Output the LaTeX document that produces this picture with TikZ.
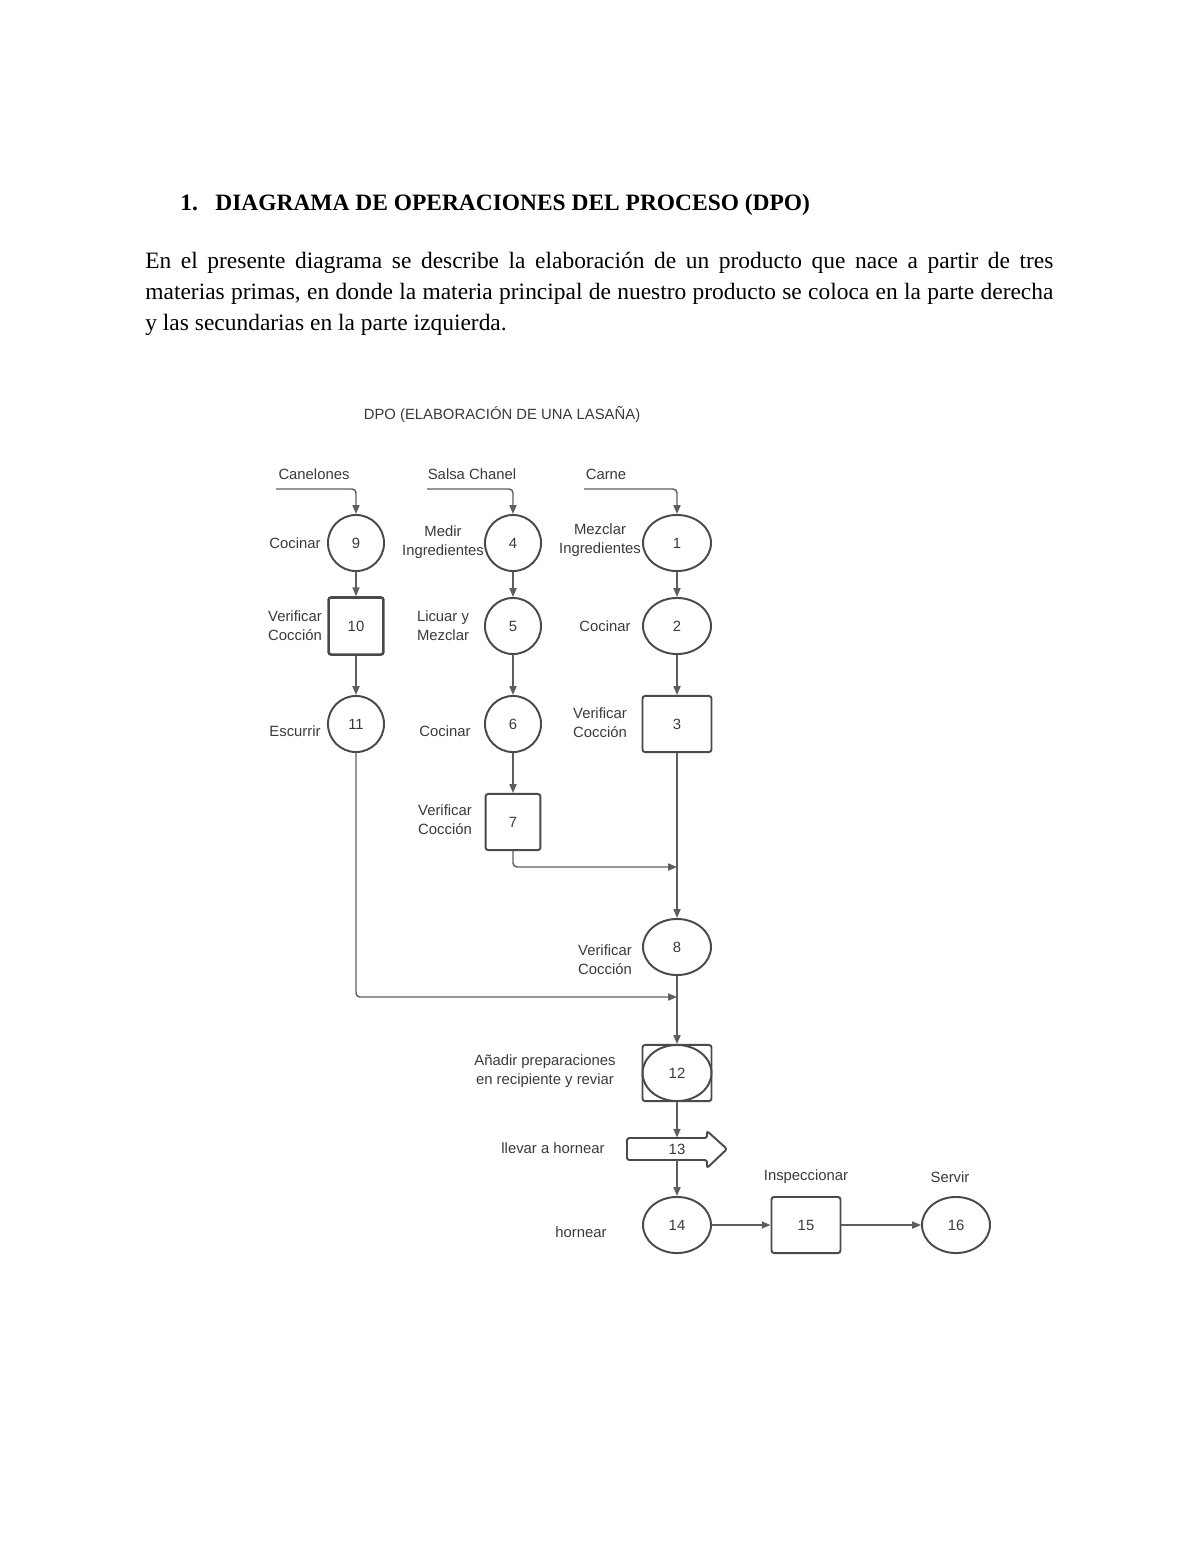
\documentclass[tikz,border=0pt]{standalone}
\usepackage{fontspec}
\setmainfont{Liberation Serif}
\setsansfont{Liberation Sans}
\usetikzlibrary{shapes.geometric,arrows.meta}
\definecolor{shapec}{HTML}{4A4A4A}
\definecolor{linec}{HTML}{5E5E5E}
\definecolor{txtc}{HTML}{3A3A3A}
\begin{document}
\begin{tikzpicture}[x=0.5118pt,y=-0.5118pt,
  dfont/.style={font=\sffamily\fontsize{7.6}{9.7}\selectfont, text=txtc},
  lbl/.style={dfont, align=center, inner sep=0},
  opc/.style={circle, draw=shapec, line width=1pt, minimum size=28.7pt, inner sep=0, dfont},
  ope/.style={ellipse, draw=shapec, line width=1pt, minimum width=34.8pt, minimum height=28.7pt, inner sep=0, dfont},
  insp/.style={rectangle, rounded corners=1.3pt, draw=shapec, line width=1pt, inner sep=0, dfont},
  flow/.style={draw=linec, line width=0.75pt, -{Triangle[length=4.5pt,width=3.6pt]}, rounded corners=2pt}
]
\useasboundingbox[fill=white] (0,0) rectangle (1200,1553);

% header text
\node[anchor=base west, inner sep=0, font=\bfseries\fontsize{12}{14}\selectfont] (num) at (180,210) {1.};
\node[anchor=base west, inner sep=0, font=\bfseries\fontsize{12}{14}\selectfont] (head) at (215,210) {DIAGRAMA DE OPERACIONES DEL PROCESO (DPO)};
\node[anchor=north west, inner sep=0, text width=464.7pt, align=justify, font=\fontsize{12}{15.8}\selectfont] (body) at (145,252)
 {En el presente diagrama se describe la elaboración de un producto que nace a partir de tres\linebreak materias primas, en donde la materia principal de nuestro producto se coloca en la parte derecha\linebreak y las secundarias en la parte izquierda.};

% title
\node[lbl] (title) at (502,415) {DPO (ELABORACIÓN DE UNA LASAÑA)};

% column 1
\node[lbl] (lcan) at (314,474) {Canelones};
\coordinate (c1) at (276,489);
\node[opc] (n9) at (356,543) {9};
\node[insp, line width=1.3pt, minimum width=28.1pt, minimum height=29.2pt] (n10) at (356,626) {10};
\node[opc] (n11) at (356,724) {11};
\node[lbl] (l9) at (295,543) {Cocinar};
\node[lbl] (l10) at (295,626) {Verificar\\Cocción};
\node[lbl] (l11) at (295,731) {Escurrir};

% column 2
\node[lbl] (lsal) at (472,474) {Salsa Chanel};
\coordinate (c2) at (427,489);
\node[opc] (n4) at (513,543) {4};
\node[opc] (n5) at (513,626) {5};
\node[opc] (n6) at (513,724) {6};
\node[insp, minimum width=28.1pt, minimum height=28.7pt] (n7) at (513,822) {7};
\node[lbl] (l4) at (443,542) {Medir\\Ingredientes};
\node[lbl] (l5) at (443,626) {Licuar y\\Mezclar};
\node[lbl] (l6) at (445,731) {Cocinar};
\node[lbl] (l7) at (445,820) {Verificar\\Cocción};

% column 3
\node[lbl] (lcar) at (606,474) {Carne};
\coordinate (c3) at (584,489);
\node[ope] (n1) at (677,543) {1};
\node[ope] (n2) at (677,626) {2};
\node[insp, minimum width=35.3pt, minimum height=28.7pt] (n3) at (677,724) {3};
\node[ope] (n8) at (677,947) {8};
\node[lbl] (l1) at (600,540) {Mezclar\\Ingredientes};
\node[lbl] (l2) at (605,626) {Cocinar};
\node[lbl] (l3) at (600,723) {Verificar\\Cocción};
\node[lbl] (l8) at (605,960) {Verificar\\Cocción};
\coordinate (j1) at (677,867);
\coordinate (j2) at (677,997);

% 12 combined
\node[insp, minimum width=35.3pt, minimum height=28.7pt] (n12) at (677,1073) {};
\node[ellipse, draw=shapec, line width=1pt, minimum width=35.3pt, minimum height=28.7pt, inner sep=0, dfont] (n12e) at (677,1073) {12};
\node[lbl] (l12) at (545,1071) {Añadir preparaciones\\en recipiente y reviar};

% 13 transport
\node[inner sep=0, minimum width=40pt, minimum height=11.26pt, dfont] (n13) at (677,1149) {13};
\draw[shapec, line width=1pt, rounded corners=1.2pt]
  (627,1138) -- (707,1138) -- (707,1131) -- (727,1149) -- (707,1168) -- (707,1160) -- (627,1160) -- cycle;
\node[lbl] (l13) at (553,1148) {llevar a hornear};

% bottom row
\node[ope] (n14) at (677,1225) {14};
\node[insp, minimum width=35.3pt, minimum height=28.7pt] (n15) at (806,1225) {15};
\node[ope] (n16) at (956,1225) {16};
\node[lbl] (l14) at (581,1232) {hornear};
\node[lbl] (l15) at (806,1177) {Inspeccionar};
\node[lbl] (l16) at (950,1177) {Servir};

% connectors
\draw[flow] (c1) -| (n9);
\draw[flow] (n9) -- (n10);
\draw[flow] (n10) -- (n11);
\draw[flow] (n11) |- (j2);
\draw[flow] (c2) -| (n4);
\draw[flow] (n4) -- (n5);
\draw[flow] (n5) -- (n6);
\draw[flow] (n6) -- (n7);
\draw[flow] (n7) |- (j1);
\draw[flow] (c3) -| (n1);
\draw[flow] (n1) -- (n2);
\draw[flow] (n2) -- (n3);
\draw[flow] (n3) -- (n8);
\draw[flow] (n8) -- (n12);
\draw[flow] (n12) -- (n13);
\draw[flow] (n13) -- (n14);
\draw[flow] (n14) -- (n15);
\draw[flow] (n15) -- (n16);
\end{tikzpicture}
\end{document}
